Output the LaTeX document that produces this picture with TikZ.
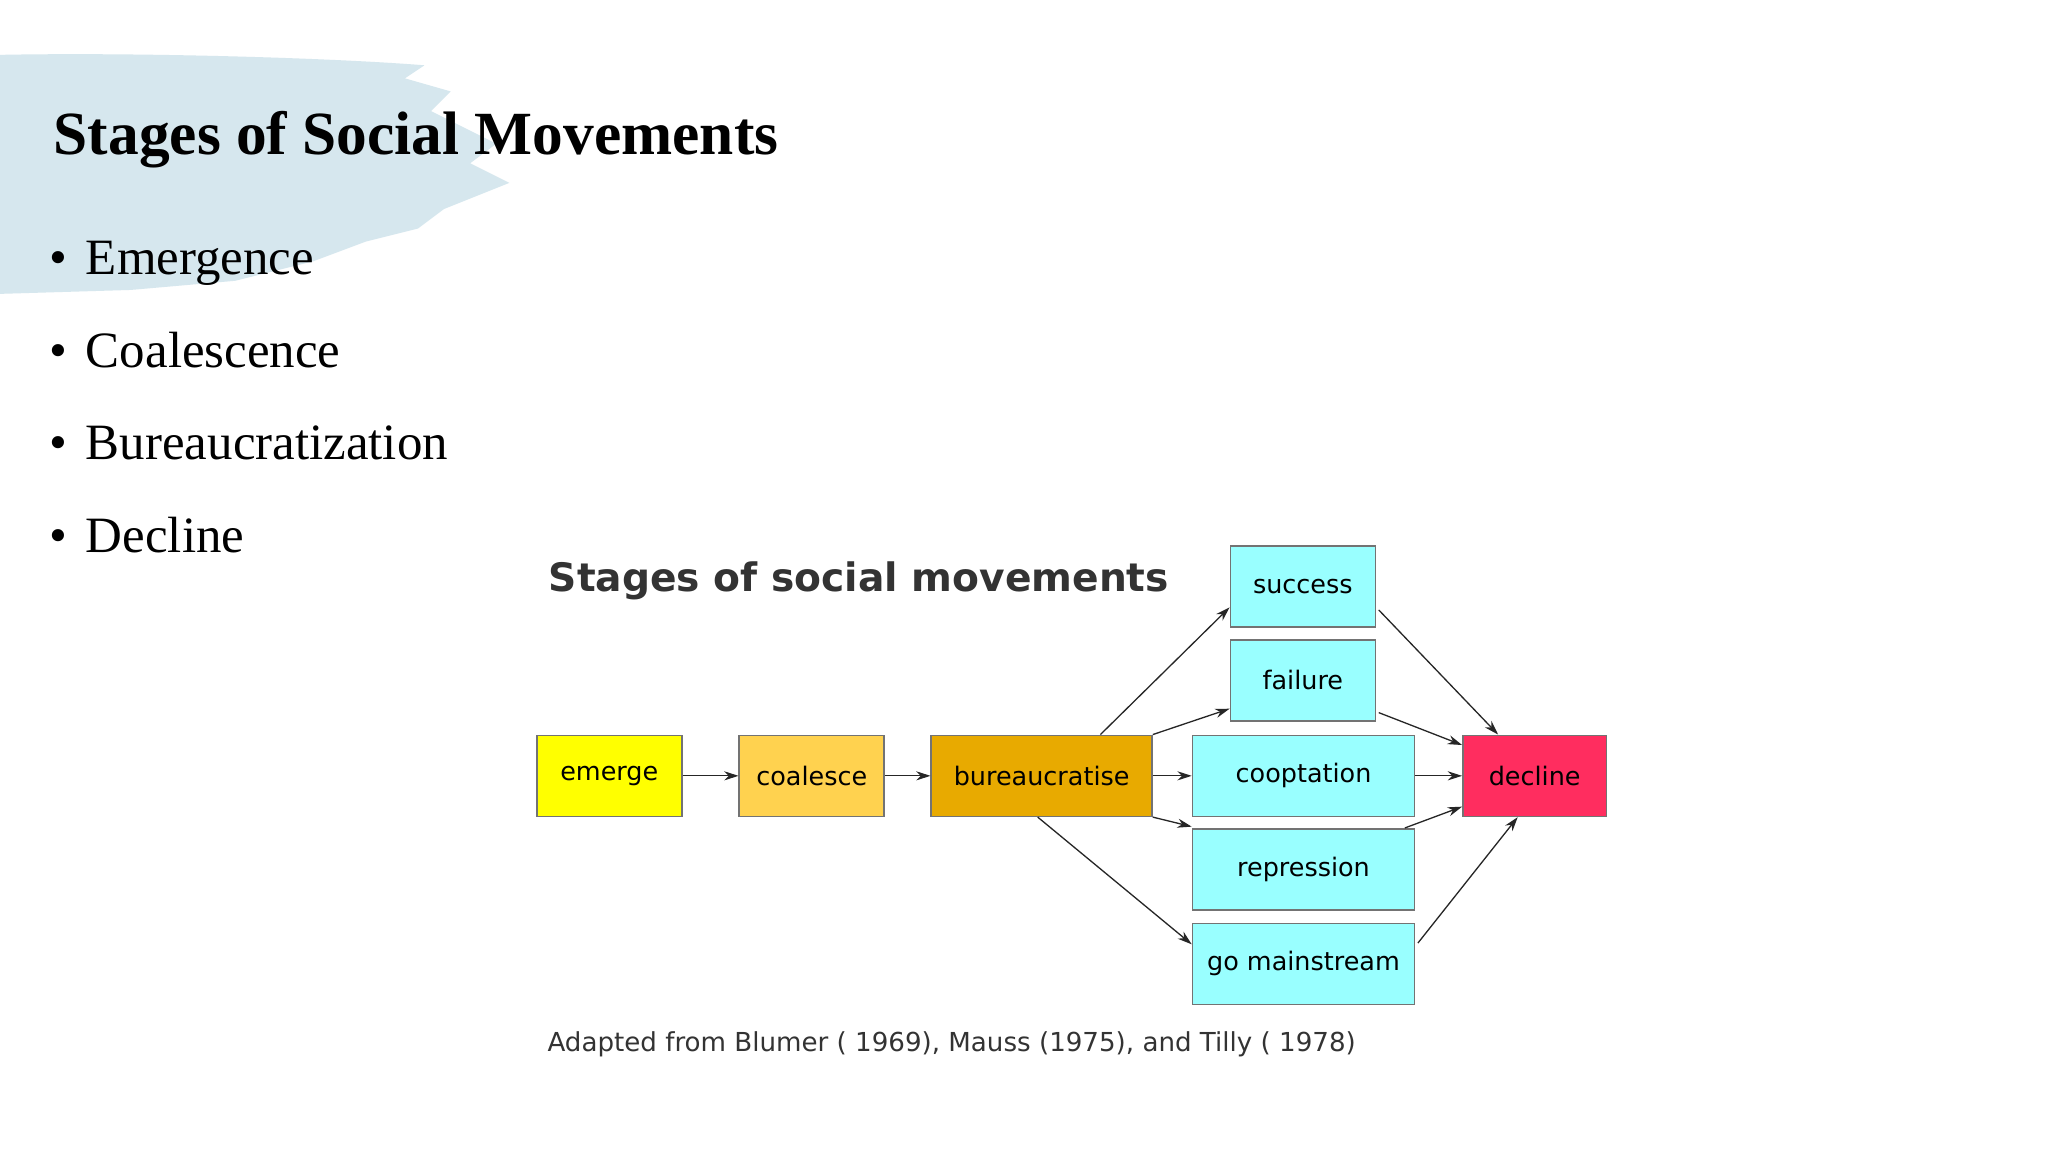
\documentclass[tikz,border=0pt]{standalone}
\usepackage{fontspec}
\setmainfont{Liberation Serif}
\newfontfamily\dsans{DejaVu Sans}
\usetikzlibrary{calc,arrows.meta}
\definecolor{brush}{HTML}{D6E7EE}
\definecolor{cyanbox}{HTML}{99FFFF}
\definecolor{yel}{HTML}{FFFF00}
\definecolor{coal}{HTML}{FFD24F}
\definecolor{bur}{HTML}{E8AA00}
\definecolor{dec}{HTML}{FF2D5F}
\begin{document}
\begin{tikzpicture}[x=1pt,y=-1pt,
  box/.style={draw=black!55,line width=1.2pt,minimum height=62pt,inner sep=0pt,font=\dsans\fontsize{19.5}{22}\selectfont},
  arr/.style={-{Stealth[length=11pt,width=7pt]},line width=1pt,black!85}]
\useasboundingbox (0,0) rectangle (1568,882);
\fill[white] (0,0) rectangle (1568,882);
\fill[brush] (0,42) .. controls (100,40) and (250,44) .. (325,50)
  -- (310,60) -- (345,70) -- (330,85) -- (380,110) -- (360,125) -- (390,140)
  -- (340,160) -- (320,175) -- (280,185) -- (240,200) -- (180,215) -- (100,222) -- (0,225) -- cycle;
\node[anchor=base west,font=\bfseries\fontsize{47}{52}\selectfont,inner sep=0pt] (title) at (41,118) {Stages of Social Movements};
\foreach \t/\yy [count=\i] in {Emergence/210,Coalescence/281,Bureaucratization/352,Decline/423}{
  \node[anchor=base west,font=\fontsize{39}{44}\selectfont,inner sep=0pt] (b\i) at (38,\yy) {\textbullet\hspace{14pt}\t};
}
\node[anchor=west,font=\dsans\bfseries\fontsize{30}{34}\selectfont,text=black!80,inner sep=0pt] (dt) at (420,445) {Stages of social movements};
\node[box,fill=yel,minimum width=111pt] (em) at (466.5,594) {emerge};
\node[box,fill=coal,minimum width=111pt] (co) at (621.5,594) {coalesce};
\node[box,fill=bur,minimum width=169pt] (bu) at (797.5,594) {bureaucratise};
\node[box,fill=cyanbox,minimum width=111pt] (su) at (997.5,449) {success};
\node[box,fill=cyanbox,minimum width=111pt] (fa) at (997.5,521) {failure};
\node[box,fill=cyanbox,minimum width=170pt] (cp) at (998,594) {cooptation};
\node[box,fill=cyanbox,minimum width=170pt] (re) at (998,665.5) {repression};
\node[box,fill=cyanbox,minimum width=170pt] (gm) at (998,738) {go mainstream};
\node[box,fill=dec,minimum width=110pt] (de) at (1175,594) {decline};
\draw[arr] (em) -- (co);
\draw[arr] (co) -- (bu);
\draw[arr] (bu) -- (cp);
\draw[arr] (cp) -- (de);
\draw[arr] ($(bu.north)+(45,0)$) -- ($(su.west)+(0,16)$);
\draw[arr] (bu.north east) -- ($(fa.south west)+(0,-10)$);
\draw[arr] (bu.south east) -- ($(re.north west)+(0,-1)$);
\draw[arr] ($(bu.south)+(-3,0)$) -- ($(gm.west)+(0,-15)$);
\draw[arr] ($(su.east)+(2,18)$) -- ($(de.north)+(-28,0)$);
\draw[arr] ($(fa.south east)+(2,-7)$) -- ($(de.north west)+(0,8)$);
\draw[arr] ($(re.north east)+(-8,0)$) -- ($(de.south west)+(0,-8)$);
\draw[arr] ($(gm.east)+(2,-16)$) -- ($(de.south)+(-13,0)$);
\node[anchor=base west,font=\dsans\fontsize{20}{24}\selectfont,text=black!80,inner sep=0pt] (cap) at (419,805) {Adapted from Blumer ( 1969), Mauss (1975), and Tilly ( 1978)};
\end{tikzpicture}
\end{document}
